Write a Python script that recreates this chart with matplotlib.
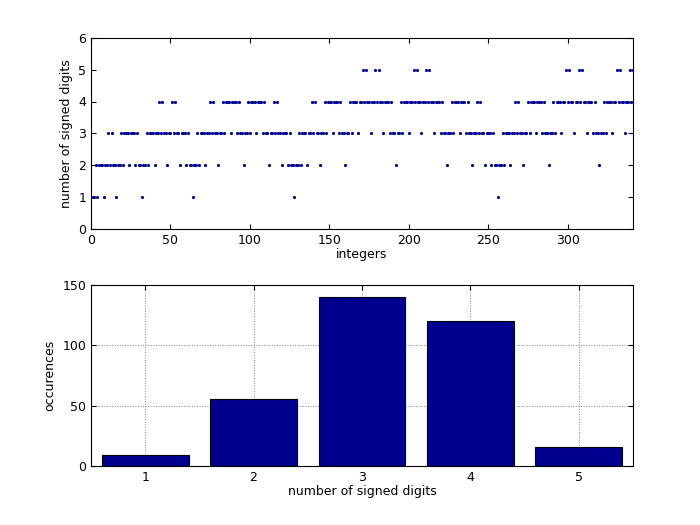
import matplotlib
matplotlib.use("Agg")
import matplotlib.pyplot as plt
import numpy as np

integers = list(range(1, 342))
signed_digits = [
1,1,2,1,2,2,2,1,2,2,3,2,3,2,2,1,2,2,3,2,3,3,3,2,3,3,3,2,3,2,2,1,
2,2,3,2,3,3,3,2,3,3,4,3,4,3,3,2,3,3,4,3,4,3,3,2,3,3,3,2,3,2,2,1,
2,2,3,2,3,3,3,2,3,3,4,3,4,3,3,2,3,3,4,3,4,4,4,3,4,4,4,3,4,3,3,2,
3,3,4,3,4,4,4,3,4,4,4,3,4,3,3,2,3,3,4,3,4,3,3,2,3,3,3,2,3,2,2,1,
2,2,3,2,3,3,3,2,3,3,4,3,4,3,3,2,3,3,4,3,4,4,4,3,4,4,4,3,4,3,3,2,
3,3,4,3,4,4,4,3,4,4,5,4,5,4,4,3,4,4,5,4,5,4,4,3,4,4,4,3,4,3,3,2,
3,3,4,3,4,4,4,3,4,4,5,4,5,4,4,3,4,4,5,4,5,4,4,3,4,4,4,3,4,3,3,2,
3,3,4,3,4,4,4,3,4,4,4,3,4,3,3,2,3,3,4,3,4,3,3,2,3,3,3,2,3,2,2,1,
2,2,3,2,3,3,3,2,3,3,4,3,4,3,3,2,3,3,4,3,4,4,4,3,4,4,4,3,4,3,3,2,
3,3,4,3,4,4,4,3,4,4,5,4,5,4,4,3,4,4,5,4,5,4,4,3,4,4,4,3,4,3,3,2,
3,3,4,3,4,4,4,3,4,4,5,4,5,4,4,3,4,4,5,4,5]
digit_counts = [1, 2, 3, 4, 5]

color = (0, 0, 0.56)
fig = plt.figure(figsize=(7, 5.25), dpi=100)
ax1 = fig.add_axes([0.13, 0.564, 0.774, 0.364])
ax1.plot(integers, signed_digits, '.', color=color, markersize=2.5)
ax1.set_xlim(0, 341)
ax1.set_ylim(0, 6)
ax1.set_xticks([0, 50, 100, 150, 200, 250, 300])
ax1.set_xlabel("integers", labelpad=1)
ax1.set_ylabel("number of signed digits")

occ = [signed_digits.count(k) for k in digit_counts]
ax2 = fig.add_axes([0.13, 0.112, 0.774, 0.345])
ax2.bar(digit_counts, occ, width=0.8, color=color, edgecolor='black', linewidth=0.8)
ax2.set_xlim(0.5, 5.5)
ax2.set_ylim(0, 150)
ax2.set_xticks(digit_counts)
ax2.set_yticks([0, 50, 100, 150])
ax2.grid(True, linestyle=':', color='gray', linewidth=0.7)
ax2.set_axisbelow(True)
ax2.set_xlabel("number of signed digits", labelpad=1)
ax2.set_ylabel("occurences")

for ax in (ax1, ax2):
    ax.tick_params(direction='in', top=True, right=True, labelsize=9)
    ax.xaxis.label.set_size(9)
    ax.yaxis.label.set_size(9)

fig.savefig("out.png")
